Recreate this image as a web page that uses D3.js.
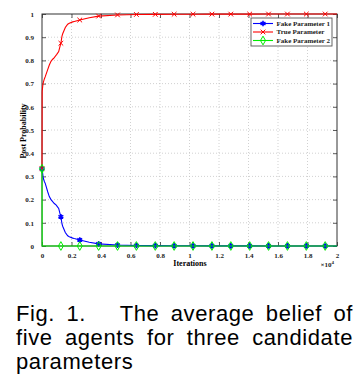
<!DOCTYPE html>
<html><head><meta charset="utf-8">
<script src="https://cdn.jsdelivr.net/npm/d3@7"></script>
<style>
html,body{margin:0;padding:0;background:#fff;width:361px;height:387px;overflow:hidden;}
#cap{position:absolute;left:16px;top:301.5px;width:337px;font-family:"Liberation Sans",Arial,sans-serif;font-size:22px;line-height:24px;letter-spacing:0.6px;color:#000;}
#cap .j{text-align:justify;text-align-last:justify;white-space:nowrap;}
</style></head>
<body>
<svg id="chart" width="361" height="290" style="position:absolute;left:0;top:0"></svg>
<div id="cap"><div class="j">Fig. 1.&emsp; The average belief of</div><div class="j">five agents for three candidate</div><div>parameters</div></div>
<script>
// ---- data ----
const iterations = [0, 10, 50, 90, 160, 220, 386, 495, 610, 725, 834, 950, 1000, 1132, 1220, 1280, 1356, 1403, 1580, 1742, 1851, 2081, 2190, 2560, 3207, 3840, 5120, 6400, 7680, 8960, 10240, 11520, 12800, 14080, 15360, 16640, 17920, 19200, 20000];
const fakeParam1 = [0.333, 0.333, 0.31, 0.292, 0.278, 0.27, 0.234, 0.213, 0.2, 0.191, 0.183, 0.177, 0.173, 0.162, 0.14, 0.126, 0.095, 0.085, 0.058, 0.044, 0.04, 0.034, 0.032, 0.026, 0.016, 0.009, 0.004, 0.002, 0.0015, 0.001, 0.0008, 0.0006, 0.0005, 0.0004, 0.0003, 0.0002, 0.0002, 0.0001, 0.0001];
const trueParam  = [0.333, 0.665, 0.69, 0.705, 0.72, 0.73, 0.76, 0.78, 0.796, 0.805, 0.812, 0.822, 0.826, 0.838, 0.86, 0.874, 0.905, 0.915, 0.942, 0.956, 0.96, 0.966, 0.968, 0.974, 0.984, 0.991, 0.996, 0.998, 0.9985, 0.999, 0.9992, 0.9994, 0.9995, 0.9996, 0.9997, 0.9998, 0.9998, 0.9999, 0.9999];
const fakeParam2 = [0.333, 0, 0, 0, 0, 0, 0, 0, 0, 0, 0, 0, 0, 0, 0, 0, 0, 0, 0, 0, 0, 0, 0, 0, 0, 0, 0, 0, 0, 0, 0, 0, 0, 0, 0, 0, 0, 0, 0];
const markerStep = 1280;
const seriesNames = ["Fake Parameter 1", "True Parameter", "Fake Parameter 2"];
const xTicks = [0, 2000, 4000, 6000, 8000, 10000, 12000, 14000, 16000, 18000, 20000];
const xTickLabels = ["0", "0.2", "0.4", "0.6", "0.8", "1", "1.2", "1.4", "1.6", "1.8", "2"];
const yTicks = [0, 0.1, 0.2, 0.3, 0.4, 0.5, 0.6, 0.7, 0.8, 0.9, 1];
const yTickLabels = ["0", "0.1", "0.2", "0.3", "0.4", "0.5", "0.6", "0.7", "0.8", "0.9", "1"];

// ---- chart ----
const L = 42, R = 337, T = 14, B = 246;
const svg = d3.select("#chart");
const x = d3.scaleLinear().domain([0, 20000]).range([L, R]);
const y = d3.scaleLinear().domain([0, 1]).range([B, T]);
const serif = '"Liberation Serif","Times New Roman",serif';

// grid
const grid = svg.append("g").attr("stroke", "#bdbdbd").attr("stroke-width", 0.7).attr("stroke-dasharray", "1,2");
grid.selectAll(".gx").data(xTicks.slice(1, -1)).join("line")
  .attr("x1", d => x(d)).attr("x2", d => x(d)).attr("y1", T).attr("y2", B);
grid.selectAll(".gy").data(yTicks.slice(1, -1)).join("line")
  .attr("y1", d => y(d)).attr("y2", d => y(d)).attr("x1", L).attr("x2", R);

// axes
function styleAxis(g) {
  g.select(".domain").remove();
  g.selectAll(".tick line").attr("stroke", "#333").attr("stroke-width", 0.8);
  g.selectAll(".tick text").attr("font-family", serif).attr("font-weight", "bold").attr("font-size", "7px").attr("fill", "#222");
}
svg.append("g").attr("transform", `translate(0,${B})`)
  .call(d3.axisBottom(x).tickValues(xTicks).tickSize(-4).tickPadding(7).tickFormat((d, i) => xTickLabels[i]))
  .call(styleAxis);
svg.append("g").attr("transform", `translate(0,${T})`)
  .call(d3.axisTop(x).tickValues(xTicks).tickSize(-4).tickFormat(""))
  .call(styleAxis);
svg.append("g").attr("transform", `translate(${L},0)`)
  .call(d3.axisLeft(y).tickValues(yTicks).tickSize(-4).tickPadding(8).tickFormat((d, i) => yTickLabels[i]))
  .call(styleAxis);
svg.append("g").attr("transform", `translate(${R},0)`)
  .call(d3.axisRight(y).tickValues(yTicks).tickSize(-4).tickFormat(""))
  .call(styleAxis);
svg.append("rect").attr("x", L).attr("y", T).attr("width", R - L).attr("height", B - T)
  .attr("fill", "none").attr("stroke", "#333").attr("stroke-width", 1);

// series
const series = [
  {name: seriesNames[0], values: fakeParam1, color: "#0000ff", sym: d3.symbolAsterisk, size: 22, fill: "none", sw: 1.6},
  {name: seriesNames[1], values: trueParam, color: "#ff0000", sym: d3.symbolX, size: 16, fill: "none", sw: 1},
  {name: seriesNames[2], values: fakeParam2, color: "#00ee00", sym: d3.symbolDiamond, size: 22, fill: "none", sw: 1}
];
const line = d3.line().x(d => x(d[0])).y(d => y(d[1]));
series.forEach(s => {
  const pts = iterations.map((it, i) => [it, s.values[i]]);
  svg.append("path").datum(pts).attr("d", line).attr("fill", "none")
    .attr("stroke", s.color).attr("stroke-width", 1.1);
  svg.append("g").selectAll("path").data(pts.filter(p => p[0] % markerStep === 0)).join("path")
    .attr("transform", d => `translate(${x(d[0])},${y(d[1])})`)
    .attr("d", d3.symbol(s.sym, s.size)).attr("fill", s.fill)
    .attr("stroke", s.color).attr("stroke-width", s.sw);
});

// axis labels
svg.append("text").attr("x", 190).attr("y", 266).attr("text-anchor", "middle")
  .attr("font-family", serif).attr("font-weight", "bold").attr("font-size", "8px").text("Iterations");
svg.append("text").attr("transform", "translate(25.5,131) rotate(-90)").attr("text-anchor", "middle")
  .attr("font-family", serif).attr("font-weight", "bold").attr("font-size", "8px").text("Post Probability");
const ex = svg.append("text").attr("x", 320.5).attr("y", 266.5)
  .attr("font-family", serif).attr("font-weight", "bold").attr("font-size", "7px").attr("fill", "#222");
ex.append("tspan").text("×10");
ex.append("tspan").attr("dy", -3).attr("font-size", "5px").text("4");

// legend
const lg = svg.append("g");
lg.append("rect").attr("x", 251).attr("y", 18).attr("width", 81).attr("height", 28)
  .attr("fill", "#fff").attr("stroke", "#555").attr("stroke-width", 0.9);
series.forEach((s, i) => {
  const yy = 23.5 + i * 8.5;
  lg.append("line").attr("x1", 253).attr("x2", 273).attr("y1", yy).attr("y2", yy)
    .attr("stroke", s.color).attr("stroke-width", 1.1);
  lg.append("path").attr("transform", `translate(263,${yy})`).attr("d", d3.symbol(s.sym, s.size))
    .attr("fill", s.fill).attr("stroke", s.color).attr("stroke-width", s.sw);
  lg.append("text").attr("x", 276.5).attr("y", yy + 2.4)
    .attr("font-family", serif).attr("font-weight", "bold").attr("font-size", "7px").attr("fill", "#222")
    .text(s.name);
});
</script>
</body></html>
